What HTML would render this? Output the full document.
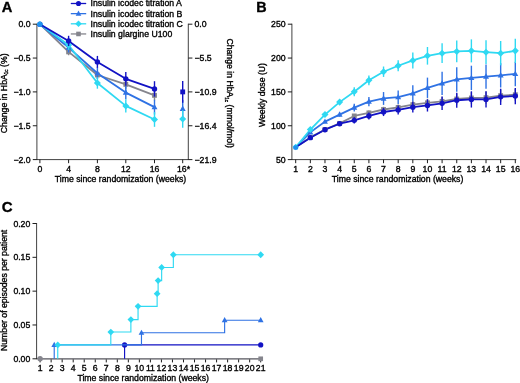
<!DOCTYPE html>
<html><head><meta charset="utf-8"><title>Figure</title>
<style>html,body{margin:0;padding:0;background:#fff;}svg{display:block;font-family:"Liberation Sans",Arial,sans-serif;}text{fill:#000;stroke:#000;stroke-width:0.35px;}</style>
</head><body>
<svg width="520" height="383" viewBox="0 0 520 383">
<rect width="520" height="383" fill="#fff"/>
<text transform="translate(1.7,12.1) scale(0.96,1)" font-size="15.3" font-weight="bold">A</text>
<line x1="36.90" y1="23.70" x2="36.90" y2="160.00" stroke="#111" stroke-width="0.8"/>
<line x1="36.90" y1="159.60" x2="188.30" y2="159.60" stroke="#111" stroke-width="0.8"/>
<line x1="188.30" y1="23.70" x2="188.30" y2="160.00" stroke="#111" stroke-width="0.8"/>
<line x1="32.80" y1="24.20" x2="36.90" y2="24.20" stroke="#111" stroke-width="0.95"/>
<text x="30.60" y="27.30" text-anchor="end" font-size="8.7" font-weight="normal" >0.0</text>
<line x1="188.30" y1="24.20" x2="192.40" y2="24.20" stroke="#111" stroke-width="0.95"/>
<text x="194.50" y="27.30" text-anchor="start" font-size="8.7" font-weight="normal" >0.0</text>
<line x1="32.80" y1="58.05" x2="36.90" y2="58.05" stroke="#111" stroke-width="0.95"/>
<text x="30.60" y="61.15" text-anchor="end" font-size="8.7" font-weight="normal" >−0.5</text>
<line x1="188.30" y1="58.05" x2="192.40" y2="58.05" stroke="#111" stroke-width="0.95"/>
<text x="194.50" y="61.15" text-anchor="start" font-size="8.7" font-weight="normal" >−5.5</text>
<line x1="32.80" y1="91.90" x2="36.90" y2="91.90" stroke="#111" stroke-width="0.95"/>
<text x="30.60" y="95.00" text-anchor="end" font-size="8.7" font-weight="normal" >−1.0</text>
<line x1="188.30" y1="91.90" x2="192.40" y2="91.90" stroke="#111" stroke-width="0.95"/>
<text x="194.50" y="95.00" text-anchor="start" font-size="8.7" font-weight="normal" >−10.9</text>
<line x1="32.80" y1="125.75" x2="36.90" y2="125.75" stroke="#111" stroke-width="0.95"/>
<text x="30.60" y="128.85" text-anchor="end" font-size="8.7" font-weight="normal" >−1.5</text>
<line x1="188.30" y1="125.75" x2="192.40" y2="125.75" stroke="#111" stroke-width="0.95"/>
<text x="194.50" y="128.85" text-anchor="start" font-size="8.7" font-weight="normal" >−16.4</text>
<line x1="32.80" y1="159.60" x2="36.90" y2="159.60" stroke="#111" stroke-width="0.95"/>
<text x="30.60" y="162.70" text-anchor="end" font-size="8.7" font-weight="normal" >−2.0</text>
<line x1="188.30" y1="159.60" x2="192.40" y2="159.60" stroke="#111" stroke-width="0.95"/>
<text x="194.50" y="162.70" text-anchor="start" font-size="8.7" font-weight="normal" >−21.9</text>
<line x1="39.90" y1="159.60" x2="39.90" y2="163.20" stroke="#111" stroke-width="0.95"/>
<text x="39.90" y="171.60" text-anchor="middle" font-size="8.7" font-weight="normal" >0</text>
<line x1="68.60" y1="159.60" x2="68.60" y2="163.20" stroke="#111" stroke-width="0.95"/>
<text x="68.60" y="171.60" text-anchor="middle" font-size="8.7" font-weight="normal" >4</text>
<line x1="97.40" y1="159.60" x2="97.40" y2="163.20" stroke="#111" stroke-width="0.95"/>
<text x="97.40" y="171.60" text-anchor="middle" font-size="8.7" font-weight="normal" >8</text>
<line x1="125.80" y1="159.60" x2="125.80" y2="163.20" stroke="#111" stroke-width="0.95"/>
<text x="125.80" y="171.60" text-anchor="middle" font-size="8.7" font-weight="normal" >12</text>
<line x1="154.50" y1="159.60" x2="154.50" y2="163.20" stroke="#111" stroke-width="0.95"/>
<text x="154.50" y="171.60" text-anchor="middle" font-size="8.7" font-weight="normal" >16</text>
<line x1="182.70" y1="159.60" x2="182.70" y2="163.20" stroke="#111" stroke-width="0.95"/>
<text x="183.50" y="171.60" text-anchor="middle" font-size="8.7" font-weight="normal" >16*</text>
<text x="120.50" y="182.20" text-anchor="middle" font-size="8.7" font-weight="normal" >Time since randomization (weeks)</text>
<text transform="translate(6.5,93.3) rotate(-90)" text-anchor="middle" font-size="8.7">Change in HbA<tspan font-size="4.6" dy="1.6">1c</tspan><tspan dy="-1.6"> (%)</tspan></text>
<text transform="translate(226.6,93.2) rotate(90)" text-anchor="middle" font-size="8.7">Change in HbA<tspan font-size="4.6" dy="1.6">1c</tspan><tspan dy="-1.6"> (mmol/mol)</tspan></text>
<polyline points="39.90,24.20 68.60,51.89 97.40,74.98 125.80,84.32 154.50,95.35" fill="none" stroke="#85858d" stroke-width="1.8" stroke-linejoin="round"/>
<polyline points="39.90,24.20 68.60,47.56 97.40,73.21 125.80,92.58 154.50,107.13" fill="none" stroke="#2f72e4" stroke-width="1.8" stroke-linejoin="round"/>
<polyline points="39.90,24.20 68.60,44.92 97.40,82.96 125.80,105.91 154.50,119.45" fill="none" stroke="#2fd9f2" stroke-width="1.8" stroke-linejoin="round"/>
<polyline points="39.90,24.20 68.60,40.92 97.40,61.91 125.80,78.83 154.50,88.92" fill="none" stroke="#1212c4" stroke-width="1.8" stroke-linejoin="round"/>
<line x1="68.60" y1="48.54" x2="68.60" y2="55.24" stroke="#85858d" stroke-width="1.4"/>
<rect x="66.17" y="49.46" width="4.86" height="4.86" fill="#85858d"/>
<line x1="97.40" y1="71.07" x2="97.40" y2="78.88" stroke="#85858d" stroke-width="1.4"/>
<rect x="94.97" y="72.55" width="4.86" height="4.86" fill="#85858d"/>
<line x1="125.80" y1="79.85" x2="125.80" y2="88.79" stroke="#85858d" stroke-width="1.4"/>
<rect x="123.37" y="81.89" width="4.86" height="4.86" fill="#85858d"/>
<line x1="154.50" y1="90.33" x2="154.50" y2="100.38" stroke="#85858d" stroke-width="1.4"/>
<rect x="152.07" y="92.92" width="4.86" height="4.86" fill="#85858d"/>
<line x1="68.60" y1="42.64" x2="68.60" y2="52.47" stroke="#2f72e4" stroke-width="1.4"/>
<polygon points="68.60,44.32 65.63,49.72 71.57,49.72" fill="#2f72e4"/>
<line x1="97.40" y1="67.48" x2="97.40" y2="78.95" stroke="#2f72e4" stroke-width="1.4"/>
<polygon points="97.40,69.97 94.43,75.37 100.37,75.37" fill="#2f72e4"/>
<line x1="125.80" y1="86.02" x2="125.80" y2="99.13" stroke="#2f72e4" stroke-width="1.4"/>
<polygon points="125.80,89.34 122.83,94.74 128.77,94.74" fill="#2f72e4"/>
<line x1="154.50" y1="99.76" x2="154.50" y2="114.51" stroke="#2f72e4" stroke-width="1.4"/>
<polygon points="154.50,103.89 151.53,109.29 157.47,109.29" fill="#2f72e4"/>
<line x1="182.70" y1="100.02" x2="182.70" y2="117.63" stroke="#2f72e4" stroke-width="1.4"/>
<polygon points="182.70,105.59 179.73,110.98 185.67,110.98" fill="#2f72e4"/>
<line x1="68.60" y1="40.00" x2="68.60" y2="49.83" stroke="#2fd9f2" stroke-width="1.4"/>
<polygon points="68.60,41.41 65.09,44.92 68.60,48.43 72.11,44.92" fill="#2fd9f2"/>
<line x1="97.40" y1="77.23" x2="97.40" y2="88.70" stroke="#2fd9f2" stroke-width="1.4"/>
<polygon points="97.40,79.45 93.89,82.96 97.40,86.47 100.91,82.96" fill="#2fd9f2"/>
<line x1="125.80" y1="99.36" x2="125.80" y2="112.47" stroke="#2fd9f2" stroke-width="1.4"/>
<polygon points="125.80,102.40 122.29,105.91 125.80,109.42 129.31,105.91" fill="#2fd9f2"/>
<line x1="154.50" y1="112.08" x2="154.50" y2="126.83" stroke="#2fd9f2" stroke-width="1.4"/>
<polygon points="154.50,115.94 150.99,119.45 154.50,122.96 158.01,119.45" fill="#2fd9f2"/>
<line x1="182.70" y1="110.18" x2="182.70" y2="127.78" stroke="#2fd9f2" stroke-width="1.4"/>
<polygon points="182.70,115.47 179.19,118.98 182.70,122.49 186.21,118.98" fill="#2fd9f2"/>
<line x1="68.60" y1="35.78" x2="68.60" y2="46.06" stroke="#1212c4" stroke-width="1.4"/>
<circle cx="68.60" cy="40.92" r="2.70" fill="#1212c4"/>
<line x1="97.40" y1="55.91" x2="97.40" y2="67.90" stroke="#1212c4" stroke-width="1.4"/>
<circle cx="97.40" cy="61.91" r="2.70" fill="#1212c4"/>
<line x1="125.80" y1="71.98" x2="125.80" y2="85.69" stroke="#1212c4" stroke-width="1.4"/>
<circle cx="125.80" cy="78.83" r="2.70" fill="#1212c4"/>
<line x1="154.50" y1="81.21" x2="154.50" y2="96.63" stroke="#1212c4" stroke-width="1.4"/>
<circle cx="154.50" cy="88.92" r="2.70" fill="#1212c4"/>
<line x1="182.70" y1="81.07" x2="182.70" y2="102.73" stroke="#1212c4" stroke-width="1.4"/>
<rect x="180.27" y="89.47" width="4.86" height="4.86" fill="#1212c4"/>
<circle cx="39.90" cy="24.20" r="2.70" fill="#1212c4"/>
<polygon points="39.90,20.88 36.78,24.00 39.90,27.12 43.02,24.00" fill="#2fd9f2"/>
<rect x="37.50" y="22.30" width="4.8" height="4.5" rx="1.6" fill="#2090f0"/>
<line x1="70.80" y1="3.50" x2="86.20" y2="3.50" stroke="#1212c4" stroke-width="1.3"/>
<circle cx="78.50" cy="3.50" r="2.55" fill="#1212c4"/>
<text x="90.60" y="6.40" text-anchor="start" font-size="8.7" font-weight="normal" >Insulin icodec titration A</text>
<line x1="70.80" y1="13.65" x2="86.20" y2="13.65" stroke="#2f72e4" stroke-width="1.3"/>
<polygon points="78.50,10.59 75.69,15.69 81.31,15.69" fill="#2f72e4"/>
<text x="90.60" y="16.55" text-anchor="start" font-size="8.7" font-weight="normal" >Insulin icodec titration B</text>
<line x1="70.80" y1="23.80" x2="86.20" y2="23.80" stroke="#2fd9f2" stroke-width="1.3"/>
<polygon points="78.50,20.48 75.19,23.80 78.50,27.12 81.81,23.80" fill="#2fd9f2"/>
<text x="90.60" y="26.70" text-anchor="start" font-size="8.7" font-weight="normal" >Insulin icodec titration C</text>
<line x1="70.80" y1="33.95" x2="86.20" y2="33.95" stroke="#85858d" stroke-width="1.3"/>
<rect x="76.20" y="31.66" width="4.59" height="4.59" fill="#85858d"/>
<text x="90.60" y="36.85" text-anchor="start" font-size="8.7" font-weight="normal" >Insulin glargine U100</text>
<text transform="translate(256.2,12.1) scale(0.94,1)" font-size="15.3" font-weight="bold">B</text>
<line x1="291.90" y1="23.70" x2="291.90" y2="160.00" stroke="#111" stroke-width="0.8"/>
<line x1="291.90" y1="159.60" x2="516.30" y2="159.60" stroke="#111" stroke-width="0.8"/>
<line x1="287.80" y1="24.20" x2="291.90" y2="24.20" stroke="#111" stroke-width="0.95"/>
<text x="285.60" y="27.30" text-anchor="end" font-size="8.7" font-weight="normal" >250</text>
<line x1="287.80" y1="58.05" x2="291.90" y2="58.05" stroke="#111" stroke-width="0.95"/>
<text x="285.60" y="61.15" text-anchor="end" font-size="8.7" font-weight="normal" >200</text>
<line x1="287.80" y1="91.90" x2="291.90" y2="91.90" stroke="#111" stroke-width="0.95"/>
<text x="285.60" y="95.00" text-anchor="end" font-size="8.7" font-weight="normal" >150</text>
<line x1="287.80" y1="125.75" x2="291.90" y2="125.75" stroke="#111" stroke-width="0.95"/>
<text x="285.60" y="128.85" text-anchor="end" font-size="8.7" font-weight="normal" >100</text>
<line x1="287.80" y1="159.60" x2="291.90" y2="159.60" stroke="#111" stroke-width="0.95"/>
<text x="285.60" y="162.70" text-anchor="end" font-size="8.7" font-weight="normal" >50</text>
<line x1="295.70" y1="159.60" x2="295.70" y2="163.20" stroke="#111" stroke-width="0.95"/>
<text x="295.70" y="171.60" text-anchor="middle" font-size="8.7" font-weight="normal" >1</text>
<line x1="310.34" y1="159.60" x2="310.34" y2="163.20" stroke="#111" stroke-width="0.95"/>
<text x="310.34" y="171.60" text-anchor="middle" font-size="8.7" font-weight="normal" >2</text>
<line x1="324.98" y1="159.60" x2="324.98" y2="163.20" stroke="#111" stroke-width="0.95"/>
<text x="324.98" y="171.60" text-anchor="middle" font-size="8.7" font-weight="normal" >3</text>
<line x1="339.62" y1="159.60" x2="339.62" y2="163.20" stroke="#111" stroke-width="0.95"/>
<text x="339.62" y="171.60" text-anchor="middle" font-size="8.7" font-weight="normal" >4</text>
<line x1="354.26" y1="159.60" x2="354.26" y2="163.20" stroke="#111" stroke-width="0.95"/>
<text x="354.26" y="171.60" text-anchor="middle" font-size="8.7" font-weight="normal" >5</text>
<line x1="368.90" y1="159.60" x2="368.90" y2="163.20" stroke="#111" stroke-width="0.95"/>
<text x="368.90" y="171.60" text-anchor="middle" font-size="8.7" font-weight="normal" >6</text>
<line x1="383.54" y1="159.60" x2="383.54" y2="163.20" stroke="#111" stroke-width="0.95"/>
<text x="383.54" y="171.60" text-anchor="middle" font-size="8.7" font-weight="normal" >7</text>
<line x1="398.18" y1="159.60" x2="398.18" y2="163.20" stroke="#111" stroke-width="0.95"/>
<text x="398.18" y="171.60" text-anchor="middle" font-size="8.7" font-weight="normal" >8</text>
<line x1="412.82" y1="159.60" x2="412.82" y2="163.20" stroke="#111" stroke-width="0.95"/>
<text x="412.82" y="171.60" text-anchor="middle" font-size="8.7" font-weight="normal" >9</text>
<line x1="427.46" y1="159.60" x2="427.46" y2="163.20" stroke="#111" stroke-width="0.95"/>
<text x="427.46" y="171.60" text-anchor="middle" font-size="8.7" font-weight="normal" >10</text>
<line x1="442.10" y1="159.60" x2="442.10" y2="163.20" stroke="#111" stroke-width="0.95"/>
<text x="442.10" y="171.60" text-anchor="middle" font-size="8.7" font-weight="normal" >11</text>
<line x1="456.74" y1="159.60" x2="456.74" y2="163.20" stroke="#111" stroke-width="0.95"/>
<text x="456.74" y="171.60" text-anchor="middle" font-size="8.7" font-weight="normal" >12</text>
<line x1="471.38" y1="159.60" x2="471.38" y2="163.20" stroke="#111" stroke-width="0.95"/>
<text x="471.38" y="171.60" text-anchor="middle" font-size="8.7" font-weight="normal" >13</text>
<line x1="486.02" y1="159.60" x2="486.02" y2="163.20" stroke="#111" stroke-width="0.95"/>
<text x="486.02" y="171.60" text-anchor="middle" font-size="8.7" font-weight="normal" >14</text>
<line x1="500.66" y1="159.60" x2="500.66" y2="163.20" stroke="#111" stroke-width="0.95"/>
<text x="500.66" y="171.60" text-anchor="middle" font-size="8.7" font-weight="normal" >15</text>
<line x1="515.30" y1="159.60" x2="515.30" y2="163.20" stroke="#111" stroke-width="0.95"/>
<text x="515.30" y="171.60" text-anchor="middle" font-size="8.7" font-weight="normal" >16</text>
<text x="397.60" y="182.20" text-anchor="middle" font-size="8.7" font-weight="normal" >Time since randomization (weeks)</text>
<text transform="translate(264.6,95) rotate(-90)" text-anchor="middle" font-size="8.7">Weekly dose (U)</text>
<polyline points="295.70,147.21 310.34,137.39 324.98,129.47 339.62,123.38 354.26,115.93 368.90,112.89 383.54,109.50 398.18,107.47 412.82,104.63 427.46,102.80 442.10,101.38 456.74,99.01 471.38,97.99 486.02,97.65 500.66,95.62 515.30,94.74" fill="none" stroke="#85858d" stroke-width="1.8" stroke-linejoin="round"/>
<polyline points="295.70,147.21 310.34,132.25 324.98,121.62 339.62,114.58 354.26,107.61 368.90,101.58 383.54,98.47 398.18,97.18 412.82,93.46 427.46,87.77 442.10,83.37 456.74,79.44 471.38,77.89 486.02,76.60 500.66,75.31 515.30,73.96" fill="none" stroke="#2f72e4" stroke-width="1.8" stroke-linejoin="round"/>
<polyline points="295.70,147.21 310.34,129.61 324.98,114.58 339.62,102.12 354.26,91.76 368.90,80.32 383.54,71.73 398.18,65.77 412.82,60.42 427.46,55.82 442.10,53.18 456.74,51.42 471.38,50.87 486.02,52.16 500.66,53.18 515.30,50.87" fill="none" stroke="#2fd9f2" stroke-width="1.8" stroke-linejoin="round"/>
<polyline points="295.70,147.21 310.34,137.67 324.98,129.68 339.62,123.72 354.26,120.33 368.90,115.93 383.54,112.01 398.18,109.91 412.82,107.20 427.46,105.44 442.10,103.34 456.74,100.23 471.38,99.41 486.02,99.41 500.66,96.84 515.30,96.03" fill="none" stroke="#1212c4" stroke-width="1.8" stroke-linejoin="round"/>
<rect x="307.91" y="134.96" width="4.86" height="4.86" fill="#85858d"/>
<rect x="322.55" y="127.04" width="4.86" height="4.86" fill="#85858d"/>
<line x1="339.62" y1="122.03" x2="339.62" y2="124.73" stroke="#85858d" stroke-width="1.4"/>
<rect x="337.19" y="120.95" width="4.86" height="4.86" fill="#85858d"/>
<line x1="354.26" y1="113.90" x2="354.26" y2="117.96" stroke="#85858d" stroke-width="1.4"/>
<rect x="351.83" y="113.50" width="4.86" height="4.86" fill="#85858d"/>
<line x1="368.90" y1="110.52" x2="368.90" y2="115.26" stroke="#85858d" stroke-width="1.4"/>
<rect x="366.47" y="110.46" width="4.86" height="4.86" fill="#85858d"/>
<line x1="383.54" y1="106.79" x2="383.54" y2="112.21" stroke="#85858d" stroke-width="1.4"/>
<rect x="381.11" y="107.07" width="4.86" height="4.86" fill="#85858d"/>
<line x1="398.18" y1="104.42" x2="398.18" y2="110.52" stroke="#85858d" stroke-width="1.4"/>
<rect x="395.75" y="105.04" width="4.86" height="4.86" fill="#85858d"/>
<line x1="412.82" y1="101.24" x2="412.82" y2="108.01" stroke="#85858d" stroke-width="1.4"/>
<rect x="410.39" y="102.20" width="4.86" height="4.86" fill="#85858d"/>
<line x1="427.46" y1="98.74" x2="427.46" y2="106.86" stroke="#85858d" stroke-width="1.4"/>
<rect x="425.03" y="100.37" width="4.86" height="4.86" fill="#85858d"/>
<line x1="442.10" y1="96.64" x2="442.10" y2="106.12" stroke="#85858d" stroke-width="1.4"/>
<rect x="439.67" y="98.95" width="4.86" height="4.86" fill="#85858d"/>
<line x1="456.74" y1="93.59" x2="456.74" y2="104.42" stroke="#85858d" stroke-width="1.4"/>
<rect x="454.31" y="96.58" width="4.86" height="4.86" fill="#85858d"/>
<line x1="471.38" y1="92.24" x2="471.38" y2="103.75" stroke="#85858d" stroke-width="1.4"/>
<rect x="468.95" y="95.56" width="4.86" height="4.86" fill="#85858d"/>
<line x1="486.02" y1="91.56" x2="486.02" y2="103.75" stroke="#85858d" stroke-width="1.4"/>
<rect x="483.59" y="95.22" width="4.86" height="4.86" fill="#85858d"/>
<line x1="500.66" y1="89.53" x2="500.66" y2="101.72" stroke="#85858d" stroke-width="1.4"/>
<rect x="498.23" y="93.19" width="4.86" height="4.86" fill="#85858d"/>
<line x1="515.30" y1="88.65" x2="515.30" y2="100.84" stroke="#85858d" stroke-width="1.4"/>
<rect x="512.87" y="92.31" width="4.86" height="4.86" fill="#85858d"/>
<polygon points="310.34,129.01 307.37,134.41 313.31,134.41" fill="#2f72e4"/>
<line x1="324.98" y1="120.27" x2="324.98" y2="122.97" stroke="#2f72e4" stroke-width="1.4"/>
<polygon points="324.98,118.38 322.01,123.78 327.95,123.78" fill="#2f72e4"/>
<line x1="339.62" y1="112.55" x2="339.62" y2="116.61" stroke="#2f72e4" stroke-width="1.4"/>
<polygon points="339.62,111.34 336.65,116.74 342.59,116.74" fill="#2f72e4"/>
<line x1="354.26" y1="103.68" x2="354.26" y2="111.53" stroke="#2f72e4" stroke-width="1.4"/>
<polygon points="354.26,104.37 351.29,109.77 357.23,109.77" fill="#2f72e4"/>
<line x1="368.90" y1="96.91" x2="368.90" y2="106.25" stroke="#2f72e4" stroke-width="1.4"/>
<polygon points="368.90,98.34 365.93,103.74 371.87,103.74" fill="#2f72e4"/>
<line x1="383.54" y1="92.04" x2="383.54" y2="104.90" stroke="#2f72e4" stroke-width="1.4"/>
<polygon points="383.54,95.23 380.57,100.63 386.51,100.63" fill="#2f72e4"/>
<line x1="398.18" y1="90.41" x2="398.18" y2="103.95" stroke="#2f72e4" stroke-width="1.4"/>
<polygon points="398.18,93.94 395.21,99.34 401.15,99.34" fill="#2f72e4"/>
<line x1="412.82" y1="85.33" x2="412.82" y2="101.58" stroke="#2f72e4" stroke-width="1.4"/>
<polygon points="412.82,90.22 409.85,95.62 415.79,95.62" fill="#2f72e4"/>
<line x1="427.46" y1="77.62" x2="427.46" y2="97.93" stroke="#2f72e4" stroke-width="1.4"/>
<polygon points="427.46,84.53 424.49,89.93 430.43,89.93" fill="#2f72e4"/>
<line x1="442.10" y1="71.86" x2="442.10" y2="94.88" stroke="#2f72e4" stroke-width="1.4"/>
<polygon points="442.10,80.13 439.13,85.53 445.07,85.53" fill="#2f72e4"/>
<line x1="456.74" y1="67.26" x2="456.74" y2="91.63" stroke="#2f72e4" stroke-width="1.4"/>
<polygon points="456.74,76.20 453.77,81.60 459.71,81.60" fill="#2f72e4"/>
<line x1="471.38" y1="65.70" x2="471.38" y2="90.07" stroke="#2f72e4" stroke-width="1.4"/>
<polygon points="471.38,74.65 468.41,80.05 474.35,80.05" fill="#2f72e4"/>
<line x1="486.02" y1="64.41" x2="486.02" y2="88.79" stroke="#2f72e4" stroke-width="1.4"/>
<polygon points="486.02,73.36 483.05,78.76 488.99,78.76" fill="#2f72e4"/>
<line x1="500.66" y1="63.13" x2="500.66" y2="87.50" stroke="#2f72e4" stroke-width="1.4"/>
<polygon points="500.66,72.07 497.69,77.47 503.63,77.47" fill="#2f72e4"/>
<line x1="515.30" y1="61.77" x2="515.30" y2="86.15" stroke="#2f72e4" stroke-width="1.4"/>
<polygon points="515.30,70.72 512.33,76.12 518.27,76.12" fill="#2f72e4"/>
<polygon points="310.34,126.10 306.83,129.61 310.34,133.12 313.85,129.61" fill="#2fd9f2"/>
<line x1="324.98" y1="113.23" x2="324.98" y2="115.93" stroke="#2fd9f2" stroke-width="1.4"/>
<polygon points="324.98,111.07 321.47,114.58 324.98,118.09 328.49,114.58" fill="#2fd9f2"/>
<line x1="339.62" y1="99.75" x2="339.62" y2="104.49" stroke="#2fd9f2" stroke-width="1.4"/>
<polygon points="339.62,98.61 336.11,102.12 339.62,105.63 343.13,102.12" fill="#2fd9f2"/>
<line x1="354.26" y1="87.30" x2="354.26" y2="96.23" stroke="#2fd9f2" stroke-width="1.4"/>
<polygon points="354.26,88.25 350.75,91.76 354.26,95.27 357.77,91.76" fill="#2fd9f2"/>
<line x1="368.90" y1="75.38" x2="368.90" y2="85.27" stroke="#2fd9f2" stroke-width="1.4"/>
<polygon points="368.90,76.81 365.39,80.32 368.90,83.83 372.41,80.32" fill="#2fd9f2"/>
<line x1="383.54" y1="66.51" x2="383.54" y2="76.94" stroke="#2fd9f2" stroke-width="1.4"/>
<polygon points="383.54,68.22 380.03,71.73 383.54,75.24 387.05,71.73" fill="#2fd9f2"/>
<line x1="398.18" y1="60.22" x2="398.18" y2="71.32" stroke="#2fd9f2" stroke-width="1.4"/>
<polygon points="398.18,62.26 394.67,65.77 398.18,69.28 401.69,65.77" fill="#2fd9f2"/>
<line x1="412.82" y1="52.43" x2="412.82" y2="68.41" stroke="#2fd9f2" stroke-width="1.4"/>
<polygon points="412.82,56.91 409.31,60.42 412.82,63.93 416.33,60.42" fill="#2fd9f2"/>
<line x1="427.46" y1="47.01" x2="427.46" y2="64.62" stroke="#2fd9f2" stroke-width="1.4"/>
<polygon points="427.46,52.31 423.95,55.82 427.46,59.33 430.97,55.82" fill="#2fd9f2"/>
<line x1="442.10" y1="43.36" x2="442.10" y2="62.99" stroke="#2fd9f2" stroke-width="1.4"/>
<polygon points="442.10,49.67 438.59,53.18 442.10,56.69 445.61,53.18" fill="#2fd9f2"/>
<line x1="456.74" y1="40.58" x2="456.74" y2="62.25" stroke="#2fd9f2" stroke-width="1.4"/>
<polygon points="456.74,47.91 453.23,51.42 456.74,54.93 460.25,51.42" fill="#2fd9f2"/>
<line x1="471.38" y1="39.36" x2="471.38" y2="62.38" stroke="#2fd9f2" stroke-width="1.4"/>
<polygon points="471.38,47.36 467.87,50.87 471.38,54.38 474.89,50.87" fill="#2fd9f2"/>
<line x1="486.02" y1="40.31" x2="486.02" y2="64.01" stroke="#2fd9f2" stroke-width="1.4"/>
<polygon points="486.02,48.65 482.51,52.16 486.02,55.67 489.53,52.16" fill="#2fd9f2"/>
<line x1="500.66" y1="40.99" x2="500.66" y2="65.36" stroke="#2fd9f2" stroke-width="1.4"/>
<polygon points="500.66,49.67 497.15,53.18 500.66,56.69 504.17,53.18" fill="#2fd9f2"/>
<line x1="515.30" y1="38.69" x2="515.30" y2="63.06" stroke="#2fd9f2" stroke-width="1.4"/>
<polygon points="515.30,47.36 511.79,50.87 515.30,54.38 518.81,50.87" fill="#2fd9f2"/>
<circle cx="310.34" cy="137.67" r="2.70" fill="#1212c4"/>
<line x1="324.98" y1="128.32" x2="324.98" y2="131.03" stroke="#1212c4" stroke-width="1.4"/>
<circle cx="324.98" cy="129.68" r="2.70" fill="#1212c4"/>
<line x1="339.62" y1="121.69" x2="339.62" y2="125.75" stroke="#1212c4" stroke-width="1.4"/>
<circle cx="339.62" cy="123.72" r="2.70" fill="#1212c4"/>
<line x1="354.26" y1="117.22" x2="354.26" y2="123.45" stroke="#1212c4" stroke-width="1.4"/>
<circle cx="354.26" cy="120.33" r="2.70" fill="#1212c4"/>
<line x1="368.90" y1="112.41" x2="368.90" y2="119.45" stroke="#1212c4" stroke-width="1.4"/>
<circle cx="368.90" cy="115.93" r="2.70" fill="#1212c4"/>
<line x1="383.54" y1="107.94" x2="383.54" y2="116.07" stroke="#1212c4" stroke-width="1.4"/>
<circle cx="383.54" cy="112.01" r="2.70" fill="#1212c4"/>
<line x1="398.18" y1="105.44" x2="398.18" y2="114.38" stroke="#1212c4" stroke-width="1.4"/>
<circle cx="398.18" cy="109.91" r="2.70" fill="#1212c4"/>
<line x1="412.82" y1="101.78" x2="412.82" y2="112.62" stroke="#1212c4" stroke-width="1.4"/>
<circle cx="412.82" cy="107.20" r="2.70" fill="#1212c4"/>
<line x1="427.46" y1="99.35" x2="427.46" y2="111.53" stroke="#1212c4" stroke-width="1.4"/>
<circle cx="427.46" cy="105.44" r="2.70" fill="#1212c4"/>
<line x1="442.10" y1="96.57" x2="442.10" y2="110.11" stroke="#1212c4" stroke-width="1.4"/>
<circle cx="442.10" cy="103.34" r="2.70" fill="#1212c4"/>
<line x1="456.74" y1="92.78" x2="456.74" y2="107.67" stroke="#1212c4" stroke-width="1.4"/>
<circle cx="456.74" cy="100.23" r="2.70" fill="#1212c4"/>
<line x1="471.38" y1="91.29" x2="471.38" y2="107.54" stroke="#1212c4" stroke-width="1.4"/>
<circle cx="471.38" cy="99.41" r="2.70" fill="#1212c4"/>
<line x1="486.02" y1="91.29" x2="486.02" y2="107.54" stroke="#1212c4" stroke-width="1.4"/>
<circle cx="486.02" cy="99.41" r="2.70" fill="#1212c4"/>
<line x1="500.66" y1="88.72" x2="500.66" y2="104.97" stroke="#1212c4" stroke-width="1.4"/>
<circle cx="500.66" cy="96.84" r="2.70" fill="#1212c4"/>
<line x1="515.30" y1="87.91" x2="515.30" y2="104.15" stroke="#1212c4" stroke-width="1.4"/>
<circle cx="515.30" cy="96.03" r="2.70" fill="#1212c4"/>
<polygon points="295.70,143.76 292.45,147.01 295.70,150.26 298.95,147.01" fill="#2fd9f2"/>
<rect x="293.30" y="145.31" width="4.8" height="4.5" rx="1.6" fill="#2090f0"/>
<text transform="translate(1.7,212.2) scale(0.98,1)" font-size="15.3" font-weight="bold">C</text>
<line x1="36.60" y1="223.00" x2="36.60" y2="359.20" stroke="#111" stroke-width="0.8"/>
<line x1="36.60" y1="358.80" x2="261.20" y2="358.80" stroke="#111" stroke-width="0.8"/>
<line x1="32.50" y1="223.50" x2="36.60" y2="223.50" stroke="#111" stroke-width="0.95"/>
<text x="30.30" y="226.60" text-anchor="end" font-size="8.7" font-weight="normal" >0.20</text>
<line x1="32.50" y1="257.32" x2="36.60" y2="257.32" stroke="#111" stroke-width="0.95"/>
<text x="30.30" y="260.43" text-anchor="end" font-size="8.7" font-weight="normal" >0.15</text>
<line x1="32.50" y1="291.15" x2="36.60" y2="291.15" stroke="#111" stroke-width="0.95"/>
<text x="30.30" y="294.25" text-anchor="end" font-size="8.7" font-weight="normal" >0.10</text>
<line x1="32.50" y1="324.98" x2="36.60" y2="324.98" stroke="#111" stroke-width="0.95"/>
<text x="30.30" y="328.08" text-anchor="end" font-size="8.7" font-weight="normal" >0.05</text>
<line x1="32.50" y1="358.80" x2="36.60" y2="358.80" stroke="#111" stroke-width="0.95"/>
<text x="30.30" y="361.90" text-anchor="end" font-size="8.7" font-weight="normal" >0.00</text>
<line x1="40.10" y1="358.80" x2="40.10" y2="362.40" stroke="#111" stroke-width="0.95"/>
<text x="40.10" y="370.60" text-anchor="middle" font-size="8.7" font-weight="normal" >1</text>
<line x1="51.13" y1="358.80" x2="51.13" y2="362.40" stroke="#111" stroke-width="0.95"/>
<text x="51.13" y="370.60" text-anchor="middle" font-size="8.7" font-weight="normal" >2</text>
<line x1="62.16" y1="358.80" x2="62.16" y2="362.40" stroke="#111" stroke-width="0.95"/>
<text x="62.16" y="370.60" text-anchor="middle" font-size="8.7" font-weight="normal" >3</text>
<line x1="73.19" y1="358.80" x2="73.19" y2="362.40" stroke="#111" stroke-width="0.95"/>
<text x="73.19" y="370.60" text-anchor="middle" font-size="8.7" font-weight="normal" >4</text>
<line x1="84.22" y1="358.80" x2="84.22" y2="362.40" stroke="#111" stroke-width="0.95"/>
<text x="84.22" y="370.60" text-anchor="middle" font-size="8.7" font-weight="normal" >5</text>
<line x1="95.25" y1="358.80" x2="95.25" y2="362.40" stroke="#111" stroke-width="0.95"/>
<text x="95.25" y="370.60" text-anchor="middle" font-size="8.7" font-weight="normal" >6</text>
<line x1="106.28" y1="358.80" x2="106.28" y2="362.40" stroke="#111" stroke-width="0.95"/>
<text x="106.28" y="370.60" text-anchor="middle" font-size="8.7" font-weight="normal" >7</text>
<line x1="117.31" y1="358.80" x2="117.31" y2="362.40" stroke="#111" stroke-width="0.95"/>
<text x="117.31" y="370.60" text-anchor="middle" font-size="8.7" font-weight="normal" >8</text>
<line x1="128.34" y1="358.80" x2="128.34" y2="362.40" stroke="#111" stroke-width="0.95"/>
<text x="128.34" y="370.60" text-anchor="middle" font-size="8.7" font-weight="normal" >9</text>
<line x1="139.37" y1="358.80" x2="139.37" y2="362.40" stroke="#111" stroke-width="0.95"/>
<text x="139.37" y="370.60" text-anchor="middle" font-size="8.7" font-weight="normal" >10</text>
<line x1="150.40" y1="358.80" x2="150.40" y2="362.40" stroke="#111" stroke-width="0.95"/>
<text x="150.40" y="370.60" text-anchor="middle" font-size="8.7" font-weight="normal" >11</text>
<line x1="161.43" y1="358.80" x2="161.43" y2="362.40" stroke="#111" stroke-width="0.95"/>
<text x="161.43" y="370.60" text-anchor="middle" font-size="8.7" font-weight="normal" >12</text>
<line x1="172.46" y1="358.80" x2="172.46" y2="362.40" stroke="#111" stroke-width="0.95"/>
<text x="172.46" y="370.60" text-anchor="middle" font-size="8.7" font-weight="normal" >13</text>
<line x1="183.49" y1="358.80" x2="183.49" y2="362.40" stroke="#111" stroke-width="0.95"/>
<text x="183.49" y="370.60" text-anchor="middle" font-size="8.7" font-weight="normal" >14</text>
<line x1="194.52" y1="358.80" x2="194.52" y2="362.40" stroke="#111" stroke-width="0.95"/>
<text x="194.52" y="370.60" text-anchor="middle" font-size="8.7" font-weight="normal" >15</text>
<line x1="205.55" y1="358.80" x2="205.55" y2="362.40" stroke="#111" stroke-width="0.95"/>
<text x="205.55" y="370.60" text-anchor="middle" font-size="8.7" font-weight="normal" >16</text>
<line x1="216.58" y1="358.80" x2="216.58" y2="362.40" stroke="#111" stroke-width="0.95"/>
<text x="216.58" y="370.60" text-anchor="middle" font-size="8.7" font-weight="normal" >17</text>
<line x1="227.61" y1="358.80" x2="227.61" y2="362.40" stroke="#111" stroke-width="0.95"/>
<text x="227.61" y="370.60" text-anchor="middle" font-size="8.7" font-weight="normal" >18</text>
<line x1="238.64" y1="358.80" x2="238.64" y2="362.40" stroke="#111" stroke-width="0.95"/>
<text x="238.64" y="370.60" text-anchor="middle" font-size="8.7" font-weight="normal" >19</text>
<line x1="249.67" y1="358.80" x2="249.67" y2="362.40" stroke="#111" stroke-width="0.95"/>
<text x="249.67" y="370.60" text-anchor="middle" font-size="8.7" font-weight="normal" >20</text>
<line x1="260.70" y1="358.80" x2="260.70" y2="362.40" stroke="#111" stroke-width="0.95"/>
<text x="260.70" y="370.60" text-anchor="middle" font-size="8.7" font-weight="normal" >21</text>
<text x="143.20" y="380.50" text-anchor="middle" font-size="8.7" font-weight="normal" >Time since randomization (weeks)</text>
<text transform="translate(6.8,290.4) rotate(-90)" text-anchor="middle" font-size="8.7">Number of episodes per patient</text>
<line x1="40.10" y1="358.80" x2="260.70" y2="358.80" stroke="#85858d" stroke-width="1.3"/>
<circle cx="40.10" cy="358.80" r="2.70" fill="#85858d"/>
<rect x="258.36" y="356.46" width="4.68" height="4.68" fill="#85858d"/>
<path d="M124.59,358.80 L124.59,344.93 L260.70,344.93 L260.70,344.93" fill="none" stroke="#1212c4" stroke-width="1.15" stroke-linejoin="miter"/>
<circle cx="124.59" cy="344.93" r="2.60" fill="#1212c4"/>
<circle cx="260.70" cy="344.93" r="2.60" fill="#1212c4"/>
<path d="M54.22,358.80 L54.22,344.93 L141.47,344.93 L141.47,332.75 L224.63,332.75 L224.63,320.24 L260.70,320.24 L260.70,320.24" fill="none" stroke="#2f72e4" stroke-width="1.15" stroke-linejoin="miter"/>
<polygon points="54.22,341.81 51.36,347.01 57.08,347.01" fill="#2f72e4"/>
<polygon points="141.47,329.63 138.61,334.83 144.33,334.83" fill="#2f72e4"/>
<polygon points="224.63,317.12 221.77,322.32 227.49,322.32" fill="#2f72e4"/>
<polygon points="260.70,317.12 257.84,322.32 263.56,322.32" fill="#2f72e4"/>
<path d="M57.75,358.80 L57.75,344.93 L110.80,344.93 L110.80,332.01 L130.88,332.01 L130.88,319.56 L138.05,319.56 L138.05,306.37 L157.13,306.37 L157.13,293.65 L158.12,293.65 L158.12,280.60 L161.65,280.60 L161.65,267.47 L173.34,267.47 L173.34,254.75 L260.70,254.75 L260.70,254.75" fill="none" stroke="#2fd9f2" stroke-width="1.15" stroke-linejoin="miter"/>
<polygon points="57.75,341.55 54.37,344.93 57.75,348.31 61.13,344.93" fill="#2fd9f2"/>
<polygon points="110.80,328.63 107.42,332.01 110.80,335.39 114.18,332.01" fill="#2fd9f2"/>
<polygon points="130.88,316.18 127.50,319.56 130.88,322.94 134.26,319.56" fill="#2fd9f2"/>
<polygon points="138.05,302.99 134.67,306.37 138.05,309.75 141.43,306.37" fill="#2fd9f2"/>
<polygon points="157.13,290.27 153.75,293.65 157.13,297.03 160.51,293.65" fill="#2fd9f2"/>
<polygon points="158.12,277.22 154.74,280.60 158.12,283.98 161.50,280.60" fill="#2fd9f2"/>
<polygon points="161.65,264.09 158.27,267.47 161.65,270.85 165.03,267.47" fill="#2fd9f2"/>
<polygon points="173.34,251.37 169.96,254.75 173.34,258.13 176.72,254.75" fill="#2fd9f2"/>
<polygon points="260.70,251.37 257.32,254.75 260.70,258.13 264.08,254.75" fill="#2fd9f2"/>
</svg>
</body></html>
